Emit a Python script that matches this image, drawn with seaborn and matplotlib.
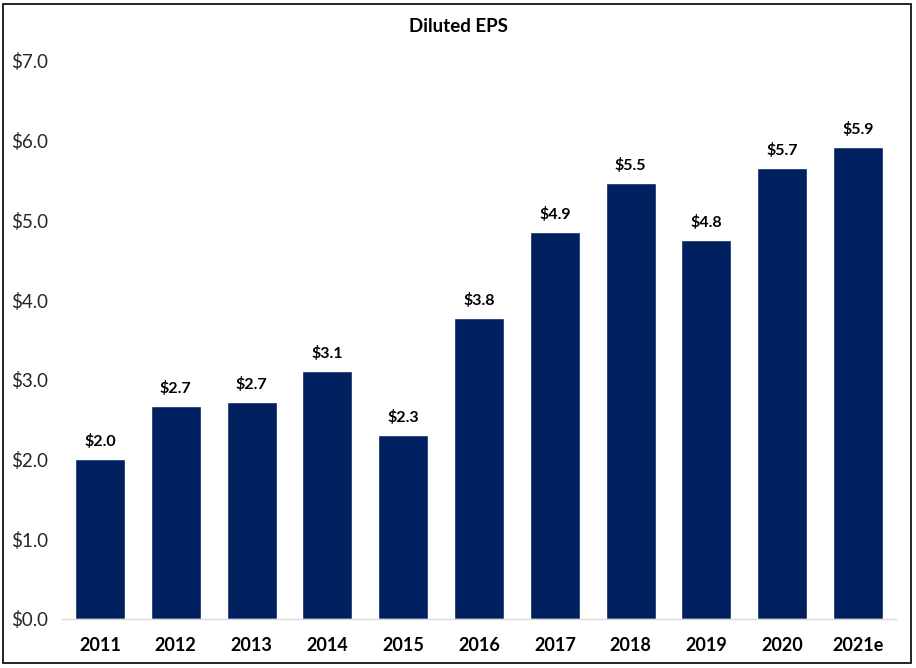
import matplotlib
matplotlib.use("Agg")
import matplotlib.pyplot as plt
import seaborn as sns
import pandas as pd
from matplotlib.patches import Rectangle
from matplotlib.ticker import FuncFormatter

years = ["2011", "2012", "2013", "2014", "2015", "2016", "2017", "2018", "2019", "2020", "2021e"]
eps = [2.01, 2.67, 2.72, 3.11, 2.31, 3.78, 4.86, 5.47, 4.76, 5.66, 5.92]
labels = ["$2.0", "$2.7", "$2.7", "$3.1", "$2.3", "$3.8", "$4.9", "$5.5", "$4.8", "$5.7", "$5.9"]

sns.set_theme(style="white")
plt.rcParams["font.family"] = ["Lato", "DejaVu Sans"]

df = pd.DataFrame({"year": years, "eps": eps})

fig = plt.figure(figsize=(9.16, 6.68), dpi=100)
ax = fig.add_axes([62 / 916, 49 / 668, 834 / 916, 558 / 668])
sns.barplot(data=df, x="year", y="eps", color="#002060", width=0.66,
            saturation=1, ax=ax)

ax.set_xlim(-0.5, len(years) - 0.5)
ax.set_ylim(0, 7)
ax.set_yticks([0, 1, 2, 3, 4, 5, 6, 7])
ax.yaxis.set_major_formatter(FuncFormatter(lambda v, p: f"${v:.1f}"))
ax.set_xlabel("")
ax.set_ylabel("")
for s in ["top", "right", "left"]:
    ax.spines[s].set_visible(False)
ax.spines["bottom"].set_color("#D9D9D9")
ax.spines["bottom"].set_linewidth(1)
ax.tick_params(axis="y", labelsize=13.5, colors="#262626", length=0, pad=10)
ax.tick_params(axis="x", labelsize=13, length=0, pad=13)
for t in ax.get_xticklabels():
    t.set_fontweight("bold")
    t.set_color("black")

for i, (v, lab) in enumerate(zip(eps, labels)):
    ax.annotate(lab, (i, v), xytext=(0, 7), textcoords="offset points",
                ha="center", va="bottom", fontsize=11.5, fontweight="bold", color="black")

fig.text(0.5, 1 - 27 / 668, "Diluted EPS", ha="center", va="center",
         fontsize=13.5, fontweight="bold", color="black")

fig.patches.append(Rectangle((3 / 916, 5 / 668), 908 / 916, 659 / 668, transform=fig.transFigure,
                             fill=False, edgecolor="black", linewidth=1.2))

fig.savefig("out.png", dpi=100)
